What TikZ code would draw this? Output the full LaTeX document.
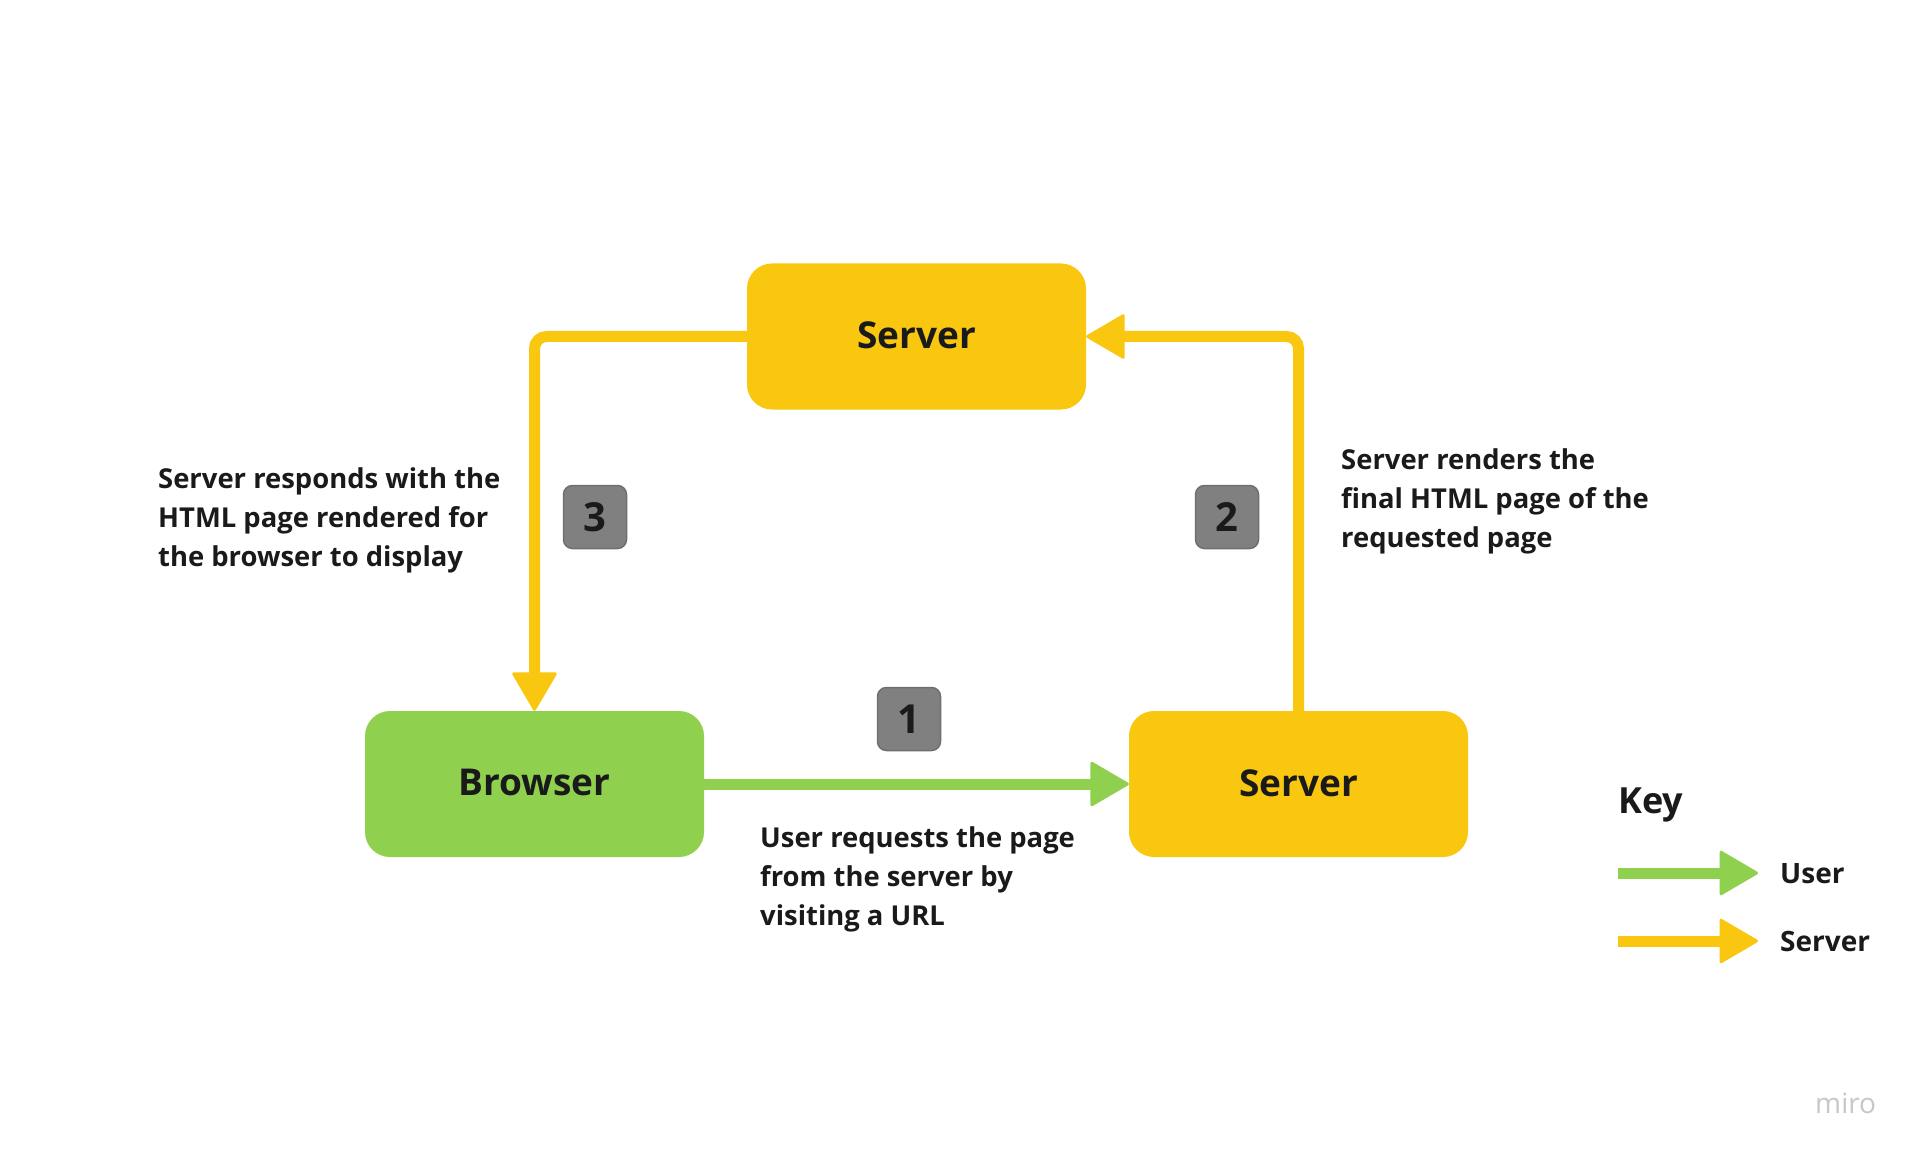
\documentclass[tikz,border=0pt]{standalone}
\usepackage{fontspec}
\setmainfont{Open Sans}
\usetikzlibrary{arrows.meta}
\definecolor{srvyellow}{HTML}{FAC710}
\definecolor{usrgreen}{HTML}{8FD14F}
\definecolor{badgegrey}{HTML}{808080}
\definecolor{badgeline}{HTML}{6F6F6F}
\definecolor{inkdark}{HTML}{1A1A1A}
\definecolor{mirogrey}{HTML}{C6C6CC}
\begin{document}
\begin{tikzpicture}[x=1pt,y=-1pt]

  % Definitions
  \tikzstyle{Box} = [rectangle, rounded corners=25pt, minimum width=339pt, minimum height=146pt, inner sep=0pt, text=inkdark, font=\fontsize{37}{44}\selectfont\bfseries]
  \tikzstyle{Badge} = [rectangle, rounded corners=9pt, minimum width=63pt, minimum height=63pt, inner sep=0pt, fill=badgegrey, draw=badgeline, line width=1.5pt, text=inkdark, font=\fontsize{40}{48}\selectfont\bfseries]
  \tikzstyle{Note} = [anchor=north west, inner sep=0pt, align=left, text=inkdark, font=\fontsize{27.4}{39}\selectfont\bfseries]
  \tikzstyle{KeyLabel} = [anchor=base west, inner sep=0pt, text=inkdark, font=\fontsize{28}{34}\selectfont\bfseries]
  \tikzstyle{arrow} = [line width=11pt, -{Triangle[length=40pt, width=46pt, line width=3pt, round]}]
  \tikzstyle{useredge} = [arrow, draw=usrgreen]
  \tikzstyle{serveredge} = [arrow, draw=srvyellow, rounded corners=12pt]

  \useasboundingbox (0,0) rectangle (1920,1158);
  \fill[white] (0,0) rectangle (1920,1158);

  \node (srvtop) [Box, fill=srvyellow] at (916.5,336.5) {\raisebox{2.5pt}{Server}};
  \node (browser) [Box, fill=usrgreen] at (534.5,784) {\raisebox{2.5pt}{Browser}};
  \node (srvbot) [Box, fill=srvyellow] at (1298.5,784) {\raisebox{2.5pt}{Server}};

  \node (step3) [Badge] at (595,517) {3};
  \node (step2) [Badge] at (1227,517) {2};
  \node (step1) [Badge] at (909,719) {1};

  \node (note3) [Note] at (158,467) {Server responds with the\\HTML page rendered for\\the browser to display};
  \node (note2) [Note] at (1341,448) {Server renders the\\final HTML page of the\\requested page};
  \node (note1) [Note] at (760,826) {User requests the page\\from the server by\\visiting a URL};

  \draw [useredge] (browser.east) -- (srvbot.west);
  \draw [serveredge] (srvbot.north) |- (srvtop.east);
  \draw [serveredge] (srvtop.west) -| (browser.north);

  % Key
  \node (keytitle) [KeyLabel, font=\fontsize{36}{42}\selectfont\bfseries] at (1618,813) {Key};
  \coordinate (keyuser) at (1618,873);
  \coordinate (keyuserend) at (1758,873);
  \coordinate (keyserver) at (1618,941);
  \coordinate (keyserverend) at (1758,941);
  \node (keyuserlbl) [KeyLabel] at (1780,883) {User};
  \node (keyserverlbl) [KeyLabel] at (1780,951) {Server};
  \draw [useredge] (keyuser) -- (keyuserend);
  \draw [serveredge] (keyserver) -- (keyserverend);

  \node (miro) [anchor=base west, inner sep=0pt, text=mirogrey, font=\fontsize{28}{34}\selectfont] at (1815,1113) {miro};

\end{tikzpicture}
\end{document}
